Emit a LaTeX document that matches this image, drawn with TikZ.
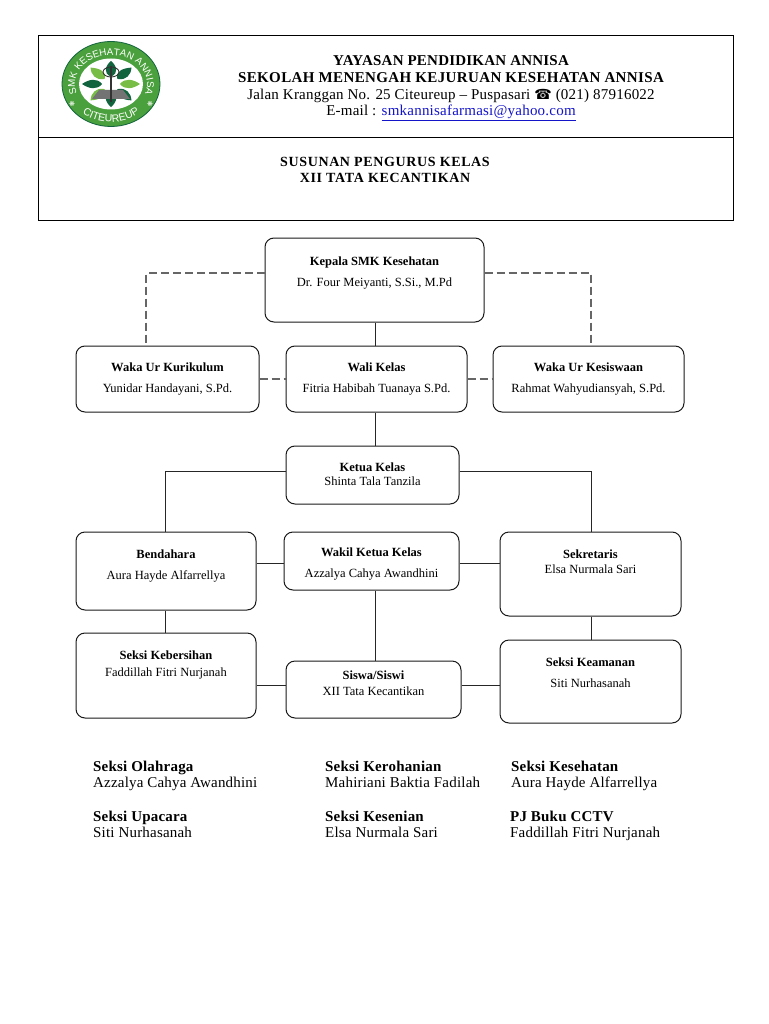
\documentclass[tikz,border=0pt]{standalone}
\usepackage{fontspec}
\setmainfont{Liberation Serif}
\newfontfamily\symfont{DejaVu Sans}
\newfontfamily\logofont{Liberation Sans}
\usetikzlibrary{decorations.text}
\definecolor{logogreen}{RGB}{74,160,60}
\definecolor{leafdark}{RGB}{18,100,62}
\definecolor{leaflight}{RGB}{120,190,70}
\definecolor{linkblue}{RGB}{20,20,200}
\tikzset{
  orgbox/.style={draw,rounded corners=9pt,line width=1pt,black!90,text=black,align=center,inner sep=0pt,font=\fontsize{12.5}{14}\selectfont},
  headtext/.style={inner sep=0pt,align=center,font=\fontsize{15}{17}\selectfont},
  listtext/.style={inner sep=0pt,anchor=north west,align=left,font=\fontsize{15}{16}\selectfont\addfontfeature{LetterSpace=1.3}},
  plainline/.style={line width=.9pt,black!85},
  dashline/.style={line width=1.3pt,black!60,dash pattern=on 8pt off 4pt}
}
\begin{document}
\begin{tikzpicture}[x=1pt,y=-1pt]
  \useasboundingbox (0,0) rectangle (768,1024);
  % kop surat
  \node[draw,line width=.9pt,minimum width=695pt,minimum height=102pt,inner sep=0pt] (kop) at (385.5,86) {};
  \node[draw,line width=.9pt,minimum width=695pt,minimum height=83pt,inner sep=0pt] (judul) at (385.5,178.5) {};
  % logo
  \fill[logogreen,draw=leafdark,line width=.8pt] (111,84) ellipse [x radius=49pt,y radius=42.5pt];
  \fill[white] (111,84) ellipse [x radius=32pt,y radius=25.5pt];
  \foreach \ang/\col in {90/leafdark,45/leafdark,0/leaflight,-45/leafdark,-90/leafdark,-135/leaflight,180/leafdark,135/leaflight}
    \fill[\col,shift={(111,84)},yscale=.8,rotate=-\ang] (9,0) .. controls (14,-8) and (22,-6) .. (29,0) .. controls (22,6) and (14,8) .. (9,0) -- cycle;
  \fill[black!55] (99,90) -- (123,90) -- (130,99) -- (92,99) -- cycle;
  \draw[black!80,line width=1.4pt] (111,66) -- (111,102);
  \draw[black!80,line width=.9pt] (111,72) ellipse [x radius=8pt,y radius=5pt];
  \path[decorate,decoration={text along path,text align=center,text color=white,
    text={|\logofont\fontsize{9.8}{11}\selectfont|SMK KESEHATAN ANNISA}}]
    (78.4,96.3) arc [start angle=205,end angle=-25,x radius=36pt,y radius=29pt];
  \path[decorate,decoration={text along path,text align=center,text color=white,
    text={|\logofont\fontsize{10.5}{11}\selectfont|CITEUREUP}}]
    (74.1,105.8) arc [start angle=215,end angle=325,x radius=45pt,y radius=38pt];
  \node[inner sep=0pt,text=white,font=\symfont\fontsize{7}{7}\selectfont] (bungakiri) at (72,104) {❋};
  \node[inner sep=0pt,text=white,font=\symfont\fontsize{7}{7}\selectfont] (bungakanan) at (150,104) {❋};
  % teks kop
  \node[headtext] (yayasan) at (451,61) {\bfseries\addfontfeature{LetterSpace=1.5}YAYASAN PENDIDIKAN ANNISA};
  \node[headtext] (sekolah) at (451,78) {\bfseries\addfontfeature{LetterSpace=2.5}SEKOLAH MENENGAH KEJURUAN KESEHATAN ANNISA};
  \node[headtext] (alamat) at (451,95.5) {\addfontfeature{LetterSpace=1.5}Jalan Kranggan No. 25 Citeureup -- Puspasari {\symfont\fontsize{14}{14}\selectfont ☎} (021) 87916022};
  \node[headtext] (email) at (451,113) {\addfontfeature{LetterSpace=1.5}E-mail : \textcolor{linkblue}{\underline{smkannisafarmasi@yahoo.com}}};
  \node[headtext,font=\fontsize{14}{16}\selectfont] (susunan) at (385,170) {\bfseries\addfontfeature{LetterSpace=4.5}SUSUNAN PENGURUS KELAS\\\bfseries\addfontfeature{LetterSpace=4.5}XII TATA KECANTIKAN};
  % bagan
  \node[orgbox,minimum width=219pt,minimum height=84pt] (kepala) at (374.5,280) {\textbf{Kepala SMK Kesehatan}\\[7pt]Dr. Four Meiyanti, S.Si., M.Pd\\[2pt]\mbox{}};
  \node[orgbox,minimum width=183pt,minimum height=66pt] (wakakur) at (167.5,379) {\textbf{Waka Ur Kurikulum}\\[7pt]Yunidar Handayani, S.Pd.};
  \node[orgbox,minimum width=181pt,minimum height=66pt] (wali) at (376.5,379) {\textbf{Wali Kelas}\\[7pt]Fitria Habibah Tuanaya S.Pd.};
  \node[orgbox,minimum width=191pt,minimum height=66pt] (wakakes) at (588.5,379) {\textbf{Waka Ur Kesiswaan}\\[7pt]Rahmat Wahyudiansyah, S.Pd.};
  \node[orgbox,minimum width=173pt,minimum height=58pt] (ketua) at (372.5,475) {\textbf{Ketua Kelas}\\Shinta Tala Tanzila\\[-12pt]\mbox{}};
  \node[orgbox,minimum width=180pt,minimum height=78pt] (bendahara) at (166,571) {\textbf{Bendahara}\\[7pt]Aura Hayde Alfarrellya\\[-2pt]\mbox{}};
  \node[orgbox,minimum width=175pt,minimum height=58pt] (wakil) at (371.5,561) {\mbox{}\\[0pt]\textbf{Wakil Ketua Kelas}\\[7pt]Azzalya Cahya Awandhini};
  \node[orgbox,minimum width=181pt,minimum height=84pt] (sekretaris) at (590.5,574) {\textbf{Sekretaris}\\[1pt]Elsa Nurmala Sari\\[11pt]\mbox{}};
  \node[orgbox,minimum width=180pt,minimum height=85pt] (kebersihan) at (166,675.5) {\textbf{Seksi Kebersihan}\\[3pt]Faddillah Fitri Nurjanah\\[10pt]\mbox{}};
  \node[orgbox,minimum width=175pt,minimum height=57pt] (siswa) at (373.5,689.5) {\textbf{Siswa/Siswi}\\[2pt]XII Tata Kecantikan\\[-1pt]\mbox{}};
  \node[orgbox,minimum width=181pt,minimum height=83pt] (keamanan) at (590.5,681.5) {\textbf{Seksi Keamanan}\\[7pt]Siti Nurhasanah\\[4pt]\mbox{}};
  % titik belok
  \coordinate (belokkur) at (146,273);
  \coordinate (belokkes) at (591,273);
  \coordinate (belokben) at (165,471);
  \coordinate (beloksek) at (591,471);
  \coordinate (tengah) at (375,300);
  \coordinate (barisb) at (0,563);
  \coordinate (barisc) at (0,685);
  % garis putus-putus
  \draw[dashline] (kepala.west |- belokkur) -- (belokkur) -- (wakakur.north -| belokkur);
  \draw[dashline] (kepala.east |- belokkes) -- (belokkes) -- (wakakes.north -| belokkes);
  \draw[dashline] (wakakur.east) -- (wali.west);
  \draw[dashline] (wali.east) -- (wakakes.west);
  % garis lurus
  \draw[plainline] (kepala.south -| tengah) -- (wali.north -| tengah);
  \draw[plainline] (wali.south -| tengah) -- (ketua.north -| tengah);
  \draw[plainline] (ketua.west |- belokben) -- (belokben) -- (bendahara.north -| belokben);
  \draw[plainline] (ketua.east |- beloksek) -- (beloksek) -- (sekretaris.north -| beloksek);
  \draw[plainline] (bendahara.east |- barisb) -- (wakil.west |- barisb);
  \draw[plainline] (wakil.east |- barisb) -- (sekretaris.west |- barisb);
  \draw[plainline] (bendahara.south -| belokben) -- (kebersihan.north -| belokben);
  \draw[plainline] (sekretaris.south -| beloksek) -- (keamanan.north -| beloksek);
  \draw[plainline] (wakil.south -| tengah) -- (siswa.north -| tengah);
  \draw[plainline] (kebersihan.east |- barisc) -- (siswa.west |- barisc);
  \draw[plainline] (siswa.east |- barisc) -- (keamanan.west |- barisc);
  % daftar seksi
  \node[listtext] (olahraga) at (93,761) {\textbf{Seksi Olahraga}\\Azzalya Cahya Awandhini};
  \node[listtext] (kerohanian) at (325,761) {\textbf{Seksi Kerohanian}\\Mahiriani Baktia Fadilah};
  \node[listtext] (kesehatan) at (511,761) {\textbf{Seksi Kesehatan}\\Aura Hayde Alfarrellya};
  \node[listtext] (upacara) at (93,811) {\textbf{Seksi Upacara}\\Siti Nurhasanah};
  \node[listtext] (kesenian) at (325,811) {\textbf{Seksi Kesenian}\\Elsa Nurmala Sari};
  \node[listtext] (buku) at (510,811) {\textbf{PJ Buku CCTV}\\Faddillah Fitri Nurjanah};
\end{tikzpicture}
\end{document}
